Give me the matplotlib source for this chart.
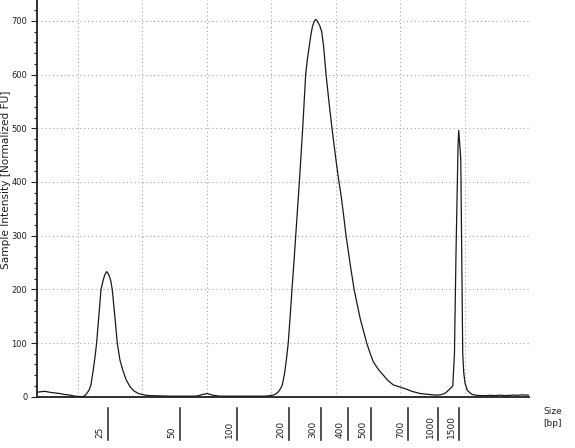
import matplotlib
matplotlib.use("Agg")
import matplotlib.pyplot as plt
import matplotlib.transforms as mtransforms

# Electropherogram trace: migration time [s] vs intensity [FU]
time_s = [16.85, 17.05, 17.47, 17.9, 18.24, 18.6, 19.02, 19.4, 19.79, 20.1, 20.41,
          20.55, 20.70, 20.88, 21.03, 21.21, 21.35, 21.47, 21.64, 21.81, 21.98, 22.1,
          22.25, 22.4, 22.56, 22.68, 22.88, 23.07, 23.28, 23.49, 23.75, 24.05, 24.35,
          24.70, 25.2, 25.6, 26.3, 27.15, 28.2, 29.09, 29.4, 29.63, 29.85, 30.02, 30.2,
          30.41, 30.7, 31.03, 31.8, 32.58, 33.5, 34.52, 34.9, 35.16, 35.35, 35.55,
          35.72, 35.86, 36.04, 36.18, 36.32, 36.47, 36.61, 36.76, 36.90, 37.04, 37.18,
          37.31, 37.44, 37.56, 37.67, 37.8, 37.95, 38.08, 38.2, 38.33, 38.45, 38.55,
          38.62, 38.7, 38.78, 38.91, 39.05, 39.25, 39.48, 39.71, 39.98, 40.25, 40.41,
          40.6, 40.8, 41.1, 41.42, 41.9, 42.4, 42.65, 42.91, 43.3, 43.69, 44.05, 44.46,
          44.85, 45.24, 45.6, 45.9, 46.2, 46.53, 46.9, 47.2, 47.5, 47.83, 48.1, 48.31,
          48.5, 48.65, 48.86, 49.0, 49.07, 49.2, 49.32, 49.42, 49.48, 49.53, 49.58,
          49.64, 49.69, 49.76, 49.84, 49.92, 50.02, 50.2, 50.41, 50.6, 50.8, 51.18,
          51.6, 52.0, 52.4, 52.73, 53.1, 53.5, 53.8, 54.1, 54.4, 54.7, 55.0]
intensity = [8, 9, 10, 8, 7, 6, 4, 3, 1, 0.5, 0,
             2, 6, 12, 22, 50, 75, 100, 150, 200, 217, 227,
             233, 228, 217, 200, 150, 100, 68, 50, 32, 19, 11,
             6, 3, 2, 1.5, 1, 1, 1, 2, 4, 5, 6, 5,
             3, 2, 1, 1, 1, 1, 1, 2, 3, 5, 9,
             15, 22, 44, 70, 100, 150, 200, 250, 300, 350, 400,
             450, 500, 553, 600, 628, 653, 675, 690, 699, 703, 700,
             697, 694, 690, 680, 655, 600, 548, 500, 448, 400, 376,
             340, 300, 250, 200, 145, 100, 82, 65, 51, 40, 30, 22,
             19, 16, 13, 10, 8, 6, 5, 4, 3.5, 3, 3.5, 5,
             7, 10, 15, 18, 20, 80, 267, 400, 470, 496, 480,
             460, 442, 267, 81, 45, 25, 12, 7, 4, 3, 2,
             2, 2.5, 2, 3, 2, 2.5, 3, 2.5, 3.5, 3, 3]

yticks_major = [0, 100, 200, 300, 400, 500, 600, 700]
time_grid = [20, 25, 30, 35, 40, 45, 50, 55]

ladder_bp = ["25", "50", "100", "200", "300", "400", "500", "700", "1000", "1500"]
ladder_time = [22.37, 27.93, 32.35, 36.35, 38.86, 40.93, 42.71, 45.62, 47.95, 49.58]

W, H = 575, 448
fig = plt.figure(figsize=(W / 100, H / 100), dpi=100)
ax = fig.add_axes([37 / W, (H - 396.7) / H, (529.3 - 37) / W, 396.7 / H])

ax.plot(time_s, intensity, color="#1a1a1a", lw=0.9, zorder=3)

ax.set_xlim(16.85, 55.0)
ax.set_ylim(0, 739)

ax.set_xticks(time_grid)
ax.set_xticklabels([])
ax.tick_params(axis="x", length=0)
ax.set_yticks(yticks_major)
ax.set_yticks(list(range(0, 740, 20)), minor=True)
ax.tick_params(axis="y", which="major", length=4, width=0.8, direction="out",
               labelsize=6, pad=3, labelcolor="#202020", color="#202020")
ax.tick_params(axis="y", which="minor", length=2, width=0.8, direction="out", color="#202020")
for lab in ax.get_yticklabels():
    lab.set_family("DejaVu Sans")

ax.grid(True, which="major", color="#a8a8a8", linestyle=(0, (1, 2.5)), linewidth=0.8)
ax.set_axisbelow(True)
for s in ["top", "right"]:
    ax.spines[s].set_visible(False)
ax.spines["left"].set_linewidth(1.3)
ax.spines["bottom"].set_linewidth(1.3)
ax.spines["left"].set_color("#202020")
ax.spines["bottom"].set_color("#202020")

ax.set_ylabel("Sample Intensity [Normalized FU]", fontsize=7.6, family="DejaVu Sans",
              color="#202020")
ax.yaxis.set_label_coords(-0.052, 0.546)

# Ladder markers below the axis
trans = mtransforms.blended_transform_factory(ax.transData, fig.transFigure)
y0, y1 = (H - 440) / H, (H - 408) / H
for bp, t in zip(ladder_bp, ladder_time):
    ax.plot([t, t], [y0, y1], transform=trans, color="#202020", lw=1.1, clip_on=False)
    tt = mtransforms.offset_copy(trans, fig=fig, x=-8, y=0, units="dots")
    ax.text(t, (H - 438) / H, bp, transform=tt, rotation=90, ha="center", va="bottom",
            fontsize=6.5, family="DejaVu Sans", color="#202020", clip_on=False)

fig.text(543 / W, (H - 411) / H, "Size", fontsize=6.5, family="DejaVu Sans",
         ha="left", va="center", color="#202020")
fig.text(543 / W, (H - 423) / H, "[bp]", fontsize=6.5, family="DejaVu Sans",
         ha="left", va="center", color="#202020")

fig.savefig("out.png", dpi=100)
